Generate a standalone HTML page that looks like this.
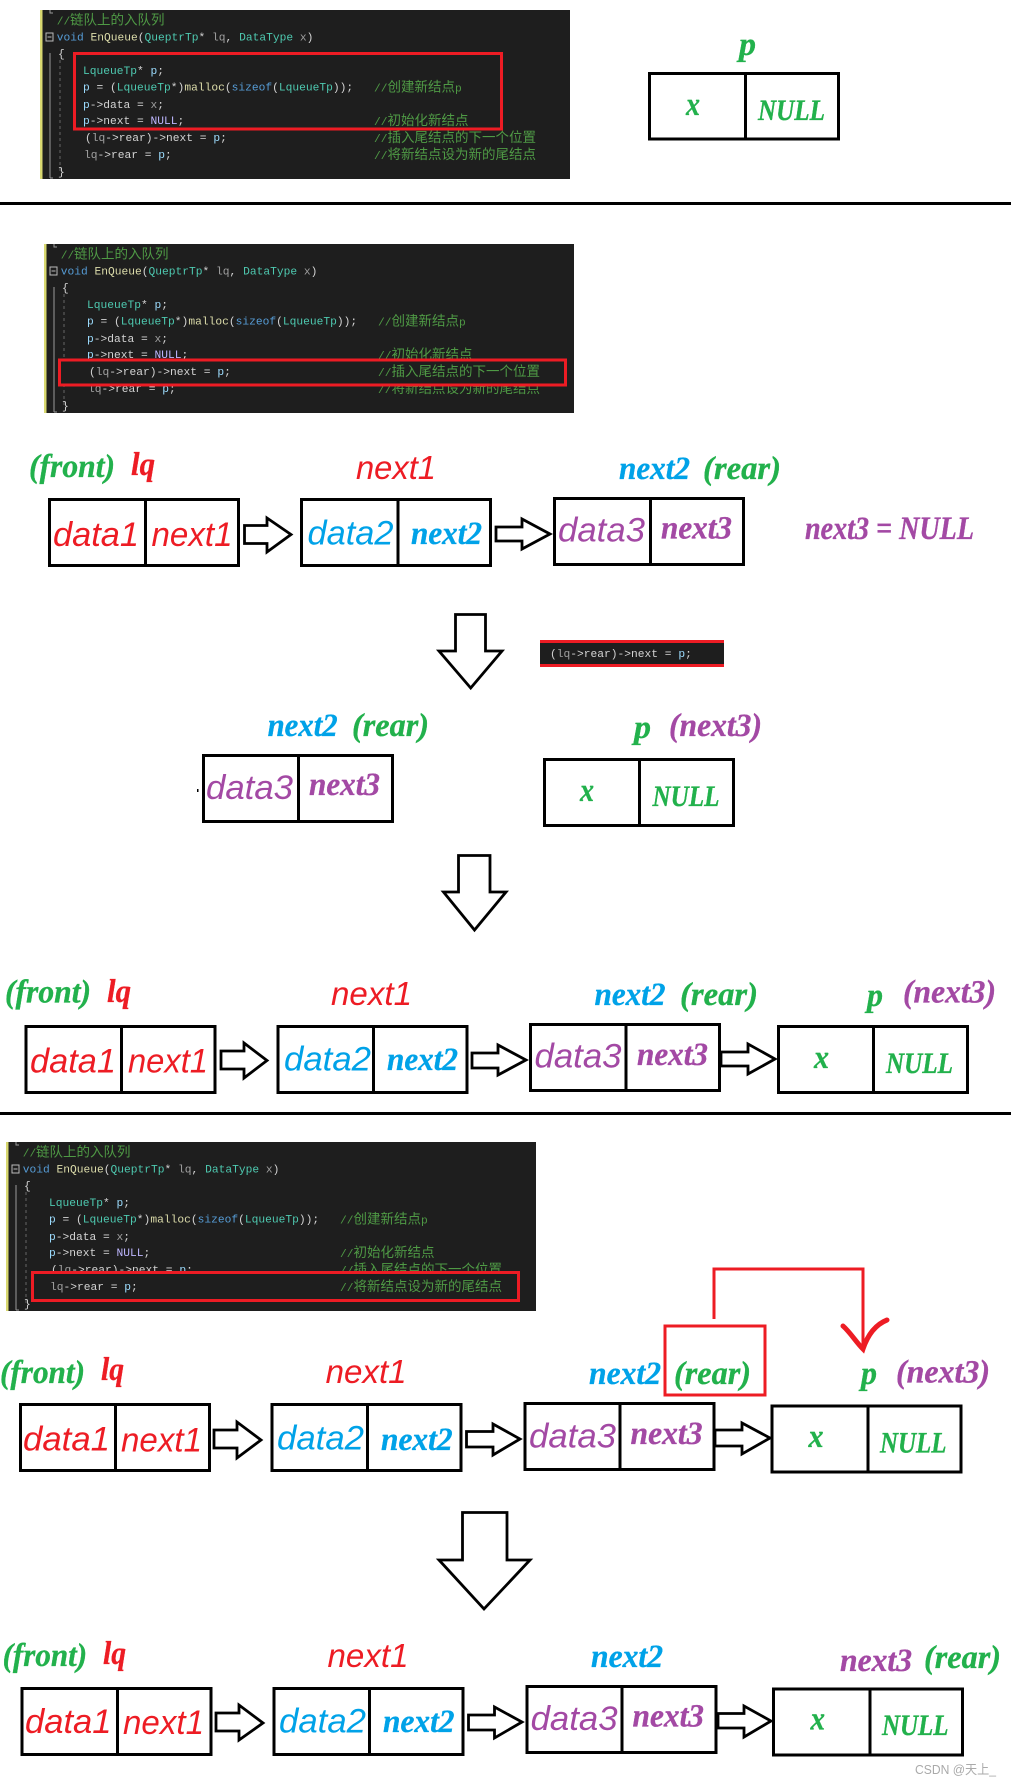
<!DOCTYPE html>
<html><head><meta charset="utf-8"><style>
html,body{margin:0;padding:0;background:#fff}
svg{display:block}
.r{fill:#ed1c24;stroke:#ed1c24}.b{fill:#00a2e8;stroke:#00a2e8}.u{fill:#a349a4;stroke:#a349a4}.g{fill:#22b14c;stroke:#22b14c}
.s{font-family:"Liberation Serif",serif;font-weight:bold;font-style:italic;font-size:33px;stroke-width:.35px}
.nl{font-size:30px}
.a{font-family:"Liberation Sans",sans-serif;font-style:italic;font-size:34px;stroke-width:0}
.h{font-family:"Liberation Sans",sans-serif;font-style:italic;font-size:33px;stroke-width:0}
.box{fill:#fff;stroke:#000;stroke-width:3}
.ar{fill:#fff;stroke:#000;stroke-width:2.8;stroke-linejoin:miter}
.ln{stroke:#000;stroke-width:3}
.m{font-family:"Liberation Mono",monospace;font-size:11.25px;fill:#d4d4d4;white-space:pre}
.c{font-family:"Noto Sans CJK SC",sans-serif;font-size:13.5px;fill:#4f9a45}
.cm{font-family:"Liberation Mono",monospace;font-size:11.25px;fill:#4f9a45}
.k{fill:#569cd6}.f{fill:#dcdcaa}.t{fill:#4ec9b0}.v{fill:#9cdcfe}.n{fill:#beb7ff}.q{fill:#a0a0a0}
</style></head><body>
<svg xmlns="http://www.w3.org/2000/svg" width="1011" height="1786" viewBox="0 0 1011 1786">
<rect width="1011" height="1786" fill="#fff"/>

<!-- code block 1 -->
<g transform="translate(40,10)">
<rect width="530" height="169" fill="#1e1e1e"/>
<rect width="2.5" height="169" fill="#d8d870"/>
<path d="M10 0v3h3M10 168h3M10 43v125" fill="none" stroke="#999"/>
<rect x="6" y="23" width="7" height="8" fill="none" stroke="#bbb"/>
<path d="M7.5 27h4" stroke="#bbb"/>
<path d="M20 50v112" stroke="#666" stroke-dasharray="3 3"/>
<text class="cm" x="16.7" y="14.5">//</text><text class="c" x="30" y="14.5">链队上的入队列</text>
<text class="m" x="16.7" y="30.7"><tspan class="k">void</tspan> <tspan class="f">EnQueue</tspan>(<tspan class="t">QueptrTp</tspan>* <tspan class="q">lq</tspan>, <tspan class="t">DataType</tspan> <tspan class="q">x</tspan>)</text>
<text class="m" x="18" y="47">{</text>
<text class="m" x="43" y="64"><tspan class="t">LqueueTp</tspan>* <tspan class="v">p</tspan>;</text>
<text class="m" x="43" y="80.7"><tspan class="v">p</tspan> = (<tspan class="t">LqueueTp</tspan>*)<tspan class="f">malloc</tspan>(<tspan class="k">sizeof</tspan>(<tspan class="t">LqueueTp</tspan>));</text>
<text class="m" x="43" y="98"><tspan class="v">p</tspan>-&gt;data = <tspan class="q">x</tspan>;</text>
<text class="m" x="43" y="114"><tspan class="v">p</tspan>-&gt;next = <tspan class="n">NULL</tspan>;</text>
<text class="m" x="45" y="131">(<tspan class="q">lq</tspan>-&gt;rear)-&gt;next = <tspan class="v">p</tspan>;</text>
<text class="m" x="44" y="148"><tspan class="q">lq</tspan>-&gt;rear = <tspan class="v">p</tspan>;</text>
<text class="m" x="18" y="165">}</text>
<text class="cm" x="334" y="81.7">//</text><text class="c" x="347.5" y="81.7">创建新结点</text><text class="cm" x="415" y="81.7">p</text>
<text class="cm" x="334" y="115">//</text><text class="c" x="347.5" y="115">初始化新结点</text>
<text class="cm" x="334" y="132">//</text><text class="c" x="347.5" y="132">插入尾结点的下一个位置</text>
<text class="cm" x="334" y="149">//</text><text class="c" x="347.5" y="149">将新结点设为新的尾结点</text>
<rect x="34.5" y="43.5" width="427" height="75.5" fill="none" stroke="#ed1c24" stroke-width="3"/>
</g>

<!-- p box -->
<text class="s g" x="739" y="55" textLength="17" lengthAdjust="spacingAndGlyphs">p</text>
<rect class="box" x="649.5" y="73.5" width="189" height="65.5"/>
<line class="ln" x1="745.5" y1="73" x2="745.5" y2="140"/>
<text class="s g" x="686" y="115" textLength="14" lengthAdjust="spacingAndGlyphs">x</text>
<text class="s g nl" x="758" y="120" textLength="67" lengthAdjust="spacingAndGlyphs">NULL</text>

<rect x="0" y="202" width="1011" height="3" fill="#000"/>

<!-- code block 2 -->
<g transform="translate(44,244)">
<rect width="530" height="169" fill="#1e1e1e"/>
<rect width="2.5" height="169" fill="#d8d870"/>
<path d="M10 0v3h3M10 168h3M10 43v125" fill="none" stroke="#999"/>
<rect x="6" y="23" width="7" height="8" fill="none" stroke="#bbb"/>
<path d="M7.5 27h4" stroke="#bbb"/>
<path d="M20 50v112" stroke="#666" stroke-dasharray="3 3"/>
<text class="cm" x="16.7" y="14.5">//</text><text class="c" x="30" y="14.5">链队上的入队列</text>
<text class="m" x="16.7" y="30.7"><tspan class="k">void</tspan> <tspan class="f">EnQueue</tspan>(<tspan class="t">QueptrTp</tspan>* <tspan class="q">lq</tspan>, <tspan class="t">DataType</tspan> <tspan class="q">x</tspan>)</text>
<text class="m" x="18" y="47">{</text>
<text class="m" x="43" y="64"><tspan class="t">LqueueTp</tspan>* <tspan class="v">p</tspan>;</text>
<text class="m" x="43" y="80.7"><tspan class="v">p</tspan> = (<tspan class="t">LqueueTp</tspan>*)<tspan class="f">malloc</tspan>(<tspan class="k">sizeof</tspan>(<tspan class="t">LqueueTp</tspan>));</text>
<text class="m" x="43" y="98"><tspan class="v">p</tspan>-&gt;data = <tspan class="q">x</tspan>;</text>
<text class="m" x="43" y="114"><tspan class="v">p</tspan>-&gt;next = <tspan class="n">NULL</tspan>;</text>
<text class="m" x="44" y="148"><tspan class="q">lq</tspan>-&gt;rear = <tspan class="v">p</tspan>;</text>
<text class="m" x="18" y="165">}</text>
<text class="cm" x="334" y="81.7">//</text><text class="c" x="347.5" y="81.7">创建新结点</text><text class="cm" x="415" y="81.7">p</text>
<text class="cm" x="334" y="115">//</text><text class="c" x="347.5" y="115">初始化新结点</text>
<text class="cm" x="334" y="149">//</text><text class="c" x="347.5" y="149">将新结点设为新的尾结点</text>
<rect x="15.5" y="116" width="506" height="25" fill="#1e1e1e" stroke="#ed1c24" stroke-width="3"/>
<text class="m" x="45" y="131">(<tspan class="q">lq</tspan>-&gt;rear)-&gt;next = <tspan class="v">p</tspan>;</text>
<text class="cm" x="334" y="132">//</text><text class="c" x="347.5" y="132">插入尾结点的下一个位置</text>
</g>

<!-- row 1 -->
<text class="s g" x="29" y="477" textLength="86" lengthAdjust="spacingAndGlyphs">(front)</text>
<text class="s r" x="131" y="475" textLength="24" lengthAdjust="spacingAndGlyphs">lq</text>
<text class="h r" x="356" y="479" textLength="80" lengthAdjust="spacingAndGlyphs">next1</text>
<text class="s b" x="619" y="479" textLength="71" lengthAdjust="spacingAndGlyphs">next2</text>
<text class="s g" x="703" y="479" textLength="78" lengthAdjust="spacingAndGlyphs">(rear)</text>

<rect class="box" x="49.5" y="499.5" width="189" height="66"/><line class="ln" x1="145.5" y1="499" x2="145.5" y2="566"/>
<text class="a r" x="53" y="546" textLength="86" lengthAdjust="spacingAndGlyphs">data1</text>
<text class="a r" x="151.5" y="546" textLength="81" lengthAdjust="spacingAndGlyphs">next1</text>
<rect class="box" x="301.5" y="499.5" width="189" height="66"/><line class="ln" x1="398" y1="499" x2="398" y2="566"/>
<text class="a b" x="307.5" y="544.5" textLength="86" lengthAdjust="spacingAndGlyphs">data2</text>
<text class="s b" x="411" y="544" textLength="71" lengthAdjust="spacingAndGlyphs">next2</text>
<rect class="box" x="554.5" y="498.5" width="189" height="66"/><line class="ln" x1="650.5" y1="498" x2="650.5" y2="565"/>
<text class="a u" x="558" y="541.5" textLength="87" lengthAdjust="spacingAndGlyphs">data3</text>
<text class="s u" x="661" y="538.5" textLength="71" lengthAdjust="spacingAndGlyphs">next3</text>
<polygon class="ar" points="244.5,525.5 267,525.5 267,518 291,534.5 267,552 267,543.5 244.5,543.5"/>
<polygon class="ar" points="496,527 522,527 522,519 550,534 522,549 522,541 496,541"/>
<text class="s u" x="805" y="539" textLength="169" lengthAdjust="spacingAndGlyphs">next3 = NULL</text>

<polygon class="ar" points="455.5,614.5 485.5,614.5 485.5,651 502,651 470.7,688 439,651 455.5,651"/>

<!-- mini code -->
<rect x="540" y="640" width="184" height="27" fill="#1e1e1e"/>
<rect x="540" y="640" width="184" height="3" fill="#ed1c24"/>
<rect x="540" y="664" width="184" height="3" fill="#ed1c24"/>
<text class="m" x="550" y="657">(<tspan class="q">lq</tspan>-&gt;rear)-&gt;next = <tspan class="v">p</tspan>;</text>

<!-- row 2 -->
<text class="s b" x="267.6" y="736" textLength="70" lengthAdjust="spacingAndGlyphs">next2</text>
<text class="s g" x="352" y="736" textLength="77" lengthAdjust="spacingAndGlyphs">(rear)</text>
<text class="s g" x="634" y="738" textLength="17" lengthAdjust="spacingAndGlyphs">p</text>
<text class="s u" x="669" y="736" textLength="93" lengthAdjust="spacingAndGlyphs">(next3)</text>
<rect class="box" x="203.5" y="755.5" width="189" height="66"/><line class="ln" x1="298.5" y1="755" x2="298.5" y2="822"/>
<rect x="197" y="789" width="1.5" height="3" fill="#000"/>
<text class="a u" x="206" y="799" textLength="87" lengthAdjust="spacingAndGlyphs">data3</text>
<text class="s u" x="309" y="795" textLength="71" lengthAdjust="spacingAndGlyphs">next3</text>
<rect class="box" x="544.5" y="759.5" width="189" height="66"/><line class="ln" x1="639.5" y1="759" x2="639.5" y2="826"/>
<text class="s g" x="580" y="801" textLength="14" lengthAdjust="spacingAndGlyphs">x</text>
<text class="s g nl" x="652.5" y="806" textLength="67" lengthAdjust="spacingAndGlyphs">NULL</text>

<polygon class="ar" points="458.5,855.5 490,855.5 490,892 506,892 474.5,930 443.5,892 458.5,892"/>

<!-- row 3 -->
<text class="s g" x="5" y="1002.6" textLength="86" lengthAdjust="spacingAndGlyphs">(front)</text>
<text class="s r" x="107" y="1002" textLength="24" lengthAdjust="spacingAndGlyphs">lq</text>
<text class="h r" x="331" y="1005" textLength="81" lengthAdjust="spacingAndGlyphs">next1</text>
<text class="s b" x="594.5" y="1005" textLength="71" lengthAdjust="spacingAndGlyphs">next2</text>
<text class="s g" x="680" y="1005" textLength="78" lengthAdjust="spacingAndGlyphs">(rear)</text>
<text class="s g" x="867" y="1006" textLength="16" lengthAdjust="spacingAndGlyphs">p</text>
<text class="s u" x="903" y="1002.6" textLength="93" lengthAdjust="spacingAndGlyphs">(next3)</text>
<rect class="box" x="26" y="1026.5" width="189" height="66"/><line class="ln" x1="121.5" y1="1026" x2="121.5" y2="1093"/>
<text class="a r" x="30" y="1072.5" textLength="86" lengthAdjust="spacingAndGlyphs">data1</text>
<text class="a r" x="128" y="1072.5" textLength="80" lengthAdjust="spacingAndGlyphs">next1</text>
<rect class="box" x="278" y="1026.5" width="189" height="66"/><line class="ln" x1="373.5" y1="1026" x2="373.5" y2="1093"/>
<text class="a b" x="284" y="1070.5" textLength="87" lengthAdjust="spacingAndGlyphs">data2</text>
<text class="s b" x="387" y="1070" textLength="71" lengthAdjust="spacingAndGlyphs">next2</text>
<rect class="box" x="530.5" y="1024.5" width="189" height="66"/><line class="ln" x1="626" y1="1024" x2="626" y2="1091"/>
<text class="a u" x="534.5" y="1067.5" textLength="87" lengthAdjust="spacingAndGlyphs">data3</text>
<text class="s u" x="637" y="1065" textLength="71" lengthAdjust="spacingAndGlyphs">next3</text>
<rect class="box" x="778.5" y="1026.5" width="189" height="66"/><line class="ln" x1="873.5" y1="1026" x2="873.5" y2="1093"/>
<text class="s g" x="814" y="1068" textLength="15" lengthAdjust="spacingAndGlyphs">x</text>
<text class="s g nl" x="886" y="1073" textLength="67" lengthAdjust="spacingAndGlyphs">NULL</text>
<polygon class="ar" points="221,1051 244,1051 244,1043 267,1060.5 244,1078 244,1069 221,1069"/>
<polygon class="ar" points="472,1053 498,1053 498,1045 526,1060 498,1075 498,1068 472,1068"/>
<polygon class="ar" points="721,1052 748,1052 748,1044 775,1059 748,1074 748,1066 721,1066"/>

<rect x="0" y="1112" width="1011" height="3" fill="#000"/>

<!-- code block 3 -->
<g transform="translate(6,1142)">
<rect width="530" height="169" fill="#1e1e1e"/>
<rect width="2.5" height="169" fill="#d8d870"/>
<path d="M10 0v3h3M10 168h3M10 43v125" fill="none" stroke="#999"/>
<rect x="6" y="23" width="7" height="8" fill="none" stroke="#bbb"/>
<path d="M7.5 27h4" stroke="#bbb"/>
<path d="M20 50v112" stroke="#666" stroke-dasharray="3 3"/>
<text class="cm" x="16.7" y="14.5">//</text><text class="c" x="30" y="14.5">链队上的入队列</text>
<text class="m" x="16.7" y="30.7"><tspan class="k">void</tspan> <tspan class="f">EnQueue</tspan>(<tspan class="t">QueptrTp</tspan>* <tspan class="q">lq</tspan>, <tspan class="t">DataType</tspan> <tspan class="q">x</tspan>)</text>
<text class="m" x="18" y="47">{</text>
<text class="m" x="43" y="64"><tspan class="t">LqueueTp</tspan>* <tspan class="v">p</tspan>;</text>
<text class="m" x="43" y="80.7"><tspan class="v">p</tspan> = (<tspan class="t">LqueueTp</tspan>*)<tspan class="f">malloc</tspan>(<tspan class="k">sizeof</tspan>(<tspan class="t">LqueueTp</tspan>));</text>
<text class="m" x="43" y="98"><tspan class="v">p</tspan>-&gt;data = <tspan class="q">x</tspan>;</text>
<text class="m" x="43" y="114"><tspan class="v">p</tspan>-&gt;next = <tspan class="n">NULL</tspan>;</text>
<text class="m" x="45" y="131">(<tspan class="q">lq</tspan>-&gt;rear)-&gt;next = <tspan class="v">p</tspan>;</text>
<text class="m" x="18" y="165">}</text>
<text class="cm" x="334" y="81.7">//</text><text class="c" x="347.5" y="81.7">创建新结点</text><text class="cm" x="415" y="81.7">p</text>
<text class="cm" x="334" y="115">//</text><text class="c" x="347.5" y="115">初始化新结点</text>
<text class="cm" x="334" y="132">//</text><text class="c" x="347.5" y="132">插入尾结点的下一个位置</text>
<rect x="26.5" y="130.5" width="486" height="28" fill="#1e1e1e" stroke="#ed1c24" stroke-width="3"/>
<text class="m" x="44" y="148"><tspan class="q">lq</tspan>-&gt;rear = <tspan class="v">p</tspan>;</text>
<text class="cm" x="334" y="149">//</text><text class="c" x="347.5" y="149">将新结点设为新的尾结点</text>
</g>

<!-- red annotation -->
<rect x="665" y="1326" width="100" height="69" fill="none" stroke="#ed1c24" stroke-width="3"/>
<path d="M714 1319V1269H863V1350" fill="none" stroke="#ed1c24" stroke-width="3"/>
<path d="M843 1326C850 1332 856 1342 863 1349C866 1340 872 1326 887 1320" fill="none" stroke="#ed1c24" stroke-width="5" stroke-linecap="round"/>

<!-- row 4 -->
<text class="s g" x="0" y="1383" textLength="85" lengthAdjust="spacingAndGlyphs">(front)</text>
<text class="s r" x="101" y="1380" textLength="23" lengthAdjust="spacingAndGlyphs">lq</text>
<text class="h r" x="325.6" y="1383" textLength="81" lengthAdjust="spacingAndGlyphs">next1</text>
<text class="s b" x="589" y="1384" textLength="72" lengthAdjust="spacingAndGlyphs">next2</text>
<text class="s g" x="674" y="1384" textLength="77" lengthAdjust="spacingAndGlyphs">(rear)</text>
<text class="s g" x="861" y="1384" textLength="16" lengthAdjust="spacingAndGlyphs">p</text>
<text class="s u" x="896" y="1382.5" textLength="94" lengthAdjust="spacingAndGlyphs">(next3)</text>
<rect class="box" x="20.5" y="1404.5" width="189" height="66"/><line class="ln" x1="115.5" y1="1404" x2="115.5" y2="1471"/>
<text class="a r" x="23" y="1450.5" textLength="87" lengthAdjust="spacingAndGlyphs">data1</text>
<text class="a r" x="121" y="1451.5" textLength="81" lengthAdjust="spacingAndGlyphs">next1</text>
<rect class="box" x="272" y="1404.5" width="189" height="66"/><line class="ln" x1="367.5" y1="1404" x2="367.5" y2="1471"/>
<text class="a b" x="277" y="1449.5" textLength="87" lengthAdjust="spacingAndGlyphs">data2</text>
<text class="s b" x="381" y="1450" textLength="71.6" lengthAdjust="spacingAndGlyphs">next2</text>
<rect class="box" x="525" y="1403.5" width="189" height="66"/><line class="ln" x1="620" y1="1403" x2="620" y2="1470"/>
<text class="a u" x="529" y="1447.5" textLength="87" lengthAdjust="spacingAndGlyphs">data3</text>
<text class="s u" x="630.5" y="1444" textLength="72" lengthAdjust="spacingAndGlyphs">next3</text>
<rect class="box" x="772" y="1406" width="189" height="66"/><line class="ln" x1="868" y1="1406" x2="868" y2="1473"/>
<text class="s g" x="808.5" y="1447" textLength="15" lengthAdjust="spacingAndGlyphs">x</text>
<text class="s g nl" x="880" y="1452.6" textLength="66.5" lengthAdjust="spacingAndGlyphs">NULL</text>
<polygon class="ar" points="214,1430 237,1430 237,1422 261,1440 237,1458 237,1448 214,1448"/>
<polygon class="ar" points="466.5,1431.5 493,1431.5 493,1424 520,1439 493,1455 493,1447 466.5,1447"/>
<polygon class="ar" points="715,1430 742,1430 742,1423 770,1438 742,1454 742,1446 715,1446"/>

<polygon class="ar" points="462.5,1512.5 507,1512.5 507,1560 530,1560 484,1609 439,1560 462.5,1560"/>

<!-- row 5 -->
<text class="s g" x="2.6" y="1666" textLength="84.5" lengthAdjust="spacingAndGlyphs">(front)</text>
<text class="s r" x="103" y="1664" textLength="23" lengthAdjust="spacingAndGlyphs">lq</text>
<text class="h r" x="327.5" y="1667" textLength="81" lengthAdjust="spacingAndGlyphs">next1</text>
<text class="s b" x="591" y="1667" textLength="72" lengthAdjust="spacingAndGlyphs">next2</text>
<text class="s u" x="840" y="1671" textLength="72" lengthAdjust="spacingAndGlyphs">next3</text>
<text class="s g" x="924" y="1668" textLength="77" lengthAdjust="spacingAndGlyphs">(rear)</text>
<rect class="box" x="22" y="1688.5" width="189" height="66"/><line class="ln" x1="117.5" y1="1688" x2="117.5" y2="1755"/>
<text class="a r" x="25" y="1733" textLength="86.5" lengthAdjust="spacingAndGlyphs">data1</text>
<text class="a r" x="123" y="1734" textLength="81" lengthAdjust="spacingAndGlyphs">next1</text>
<rect class="box" x="274" y="1688.5" width="189" height="66"/><line class="ln" x1="369.5" y1="1688" x2="369.5" y2="1755"/>
<text class="a b" x="279" y="1732.5" textLength="87" lengthAdjust="spacingAndGlyphs">data2</text>
<text class="s b" x="383" y="1732" textLength="71.5" lengthAdjust="spacingAndGlyphs">next2</text>
<rect class="box" x="527" y="1686.5" width="189" height="66"/><line class="ln" x1="622" y1="1686" x2="622" y2="1753"/>
<text class="a u" x="530.6" y="1730" textLength="87" lengthAdjust="spacingAndGlyphs">data3</text>
<text class="s u" x="632.5" y="1726.5" textLength="71.5" lengthAdjust="spacingAndGlyphs">next3</text>
<rect class="box" x="773.5" y="1689" width="189" height="66"/><line class="ln" x1="870" y1="1689" x2="870" y2="1756"/>
<text class="s g" x="810.5" y="1729.6" textLength="14.5" lengthAdjust="spacingAndGlyphs">x</text>
<text class="s g nl" x="882" y="1735" textLength="66.5" lengthAdjust="spacingAndGlyphs">NULL</text>
<polygon class="ar" points="216,1713 239,1713 239,1705 263,1723 239,1740 239,1731 216,1731"/>
<polygon class="ar" points="468.5,1715 494.5,1715 494.5,1707 522,1722 494.5,1738 494.5,1730 468.5,1730"/>
<polygon class="ar" points="718,1713.5 744,1713.5 744,1706 771,1721 744,1737 744,1728 718,1728"/>

<text x="915" y="1774" font-family="'Liberation Sans','Noto Sans CJK SC',sans-serif" font-size="13" fill="#aaa" textLength="81" lengthAdjust="spacingAndGlyphs">CSDN @天上_</text>
</svg>
</body></html>
